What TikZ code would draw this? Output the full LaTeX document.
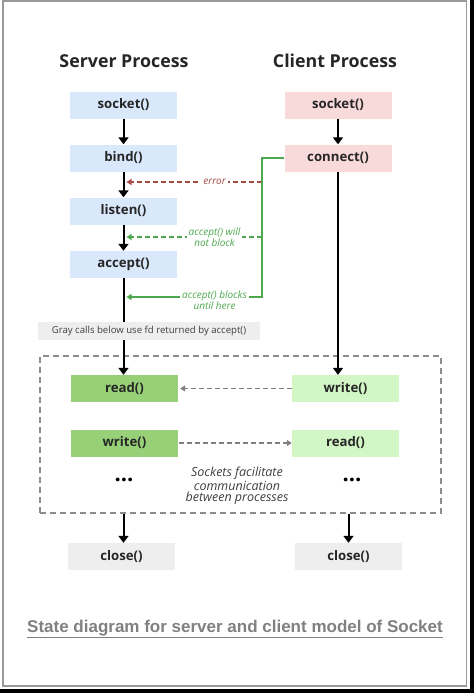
\documentclass[tikz,border=0pt]{standalone}
\usepackage{fontspec}
\setmainfont{Open Sans}
\newfontfamily\captionfont{Liberation Sans}
\usetikzlibrary{arrows.meta}

\definecolor{ServerBlue}{HTML}{DAE8FC}
\definecolor{ClientPink}{HTML}{F9DADA}
\definecolor{ServerGreen}{HTML}{97D077}
\definecolor{ClientGreen}{HTML}{D3F6C6}
\definecolor{CallGray}{HTML}{EEEEEE}
\definecolor{ErrorRed}{HTML}{A84A46}
\definecolor{NoteGreen}{HTML}{4DA84D}

\begin{document}
\begin{tikzpicture}[x=1pt, y=-1pt,
    call/.style={minimum width=107pt, minimum height=27pt, inner sep=0pt,
        font=\fontsize{13.2}{15}\selectfont\bfseries, text=black!85},
    serverCall/.style={call, fill=ServerBlue},
    clientCall/.style={call, fill=ClientPink},
    flowArrow/.style={line width=2pt, -{Triangle[length=7pt, width=10pt]}},
    noteText/.style={fill=white, inner sep=2pt, font=\fontsize{10}{9.5}\selectfont\itshape, align=center}
]
    % Page frame
    \useasboundingbox (0,0) rectangle (474,693);
    \fill[black] (0,0) rectangle (474,693);
    \fill[white] (0,0) rectangle (469.5,688.5);
    \draw[gray!80, line width=1.5pt] (3,1) rectangle (466.5,686);

    % Titles
    \node[font=\fontsize{17.8}{20}\selectfont\bfseries, text=black!85] (ServerTitle) at (124,61) {Server Process};
    \node[font=\fontsize{17.8}{20}\selectfont\bfseries, text=black!85] (ClientTitle) at (335,61) {Client Process};

    % Server calls
    \node[serverCall] (ServerSocket) at (123.5,105) {socket()};
    \node[serverCall] (ServerBind) at (123.5,158) {bind()};
    \node[serverCall] (ServerListen) at (123.5,211) {listen()};
    \node[serverCall] (ServerAccept) at (123.5,264.5) {accept()};

    % Client calls
    \node[clientCall] (ClientSocket) at (338,105) {socket()};
    \node[clientCall] (ClientConnect) at (338,158) {connect()};

    % Socket communication area
    \node[draw=gray!90, line width=1.2pt, dash pattern=on 6pt off 4pt,
          minimum width=401pt, minimum height=157pt, inner sep=0pt] (SocketArea) at (240.5,434.5) {};
    \node[call, fill=ServerGreen] (ServerRead) at (124.5,388.5) {read()};
    \node[call, fill=ServerGreen] (ServerWrite) at (124.5,443) {write()};
    \node[call, fill=ClientGreen] (ClientWrite) at (345.5,388.5) {write()};
    \node[call, fill=ClientGreen] (ClientRead) at (345.5,443) {read()};
    \node[font=\fontsize{22}{22}\selectfont\bfseries] (ServerDots) at (124,480) {...};
    \node[font=\fontsize{22}{22}\selectfont\bfseries] (ClientDots) at (352,480) {...};
    \node[font=\fontsize{12.5}{11.5}\selectfont\itshape, text=black!75, align=center] (SocketNote) at (237,486)
        {Sockets facilitate\\communication\\between processes};

    % Close calls
    \node[call, fill=CallGray] (ServerClose) at (121.5,556.5) {close()};
    \node[call, fill=CallGray] (ClientClose) at (348.5,556.5) {close()};

    % Main flow
    \draw[flowArrow] (ServerSocket) -- (ServerBind);
    \draw[flowArrow] (ServerBind) -- (ServerListen);
    \draw[flowArrow] (ServerListen) -- (ServerAccept);
    \draw[flowArrow] (ServerAccept.south) -- (ServerAccept.south |- ServerRead.north);
    \draw[flowArrow] (ClientSocket) -- (ClientConnect);
    \draw[flowArrow] (ClientConnect.south) -- (ClientConnect.south |- ClientWrite.north);
    \draw[flowArrow] (ServerAccept.south |- SocketArea.south) -- (ServerAccept.south |- ServerClose.north);
    \draw[flowArrow] (ClientClose.north |- SocketArea.south) -- (ClientClose.north);

    % Gray note drawn over the accept() line
    \node[fill=CallGray, minimum width=222pt, minimum height=18pt, inner sep=0pt,
          font=\fontsize{9.6}{11}\selectfont, text=black!75] (FdNote) at (149,331)
        {Gray calls below use fd returned by accept()};

    % Data exchange
    \draw[gray, line width=1.2pt, dash pattern=on 5pt off 3pt, -{Triangle[length=5pt, width=6pt]}, shorten >=2pt]
        (ClientWrite.west) -- (ServerRead.east);
    \draw[gray, line width=1.2pt, dash pattern=on 5pt off 3pt, -{Triangle[length=5pt, width=6pt]}, shorten <=1pt]
        (ServerWrite.east) -- (ClientRead.west);

    % connect() notes
    \coordinate (ErrorPoint) at (262,182);
    \coordinate (NoBlockPoint) at (262,237);
    \coordinate (BlockPoint) at (262,297);
    \draw[ErrorRed, line width=1.2pt, dash pattern=on 5pt off 3pt, -{Triangle[length=5pt, width=6pt]}]
        (ErrorPoint) -- node[noteText, text=ErrorRed, pos=0.35] {error} ([xshift=3pt]ErrorPoint -| ServerBind.south);
    \draw[NoteGreen, line width=1.2pt, dash pattern=on 5pt off 3pt, -{Triangle[length=5pt, width=6pt]}]
        (NoBlockPoint) -- node[noteText, text=NoteGreen, pos=0.35] {accept() will\\not block} ([xshift=3pt]NoBlockPoint -| ServerListen.south);
    \draw[NoteGreen, line width=1.2pt, -{Triangle[length=5pt, width=6pt]}]
        (ClientConnect.west) -| (BlockPoint)
        -- node[noteText, text=NoteGreen, pos=0.35, yshift=-3pt] {accept() blocks\\until here} ([xshift=3pt]BlockPoint -| ServerAccept.south);

    % Caption
    \node[font=\captionfont\fontsize{17}{19}\selectfont\bfseries, text=black!50] (Caption) at (235,629)
        {\underline{State diagram for server and client model of Socket}};
\end{tikzpicture}
\end{document}
